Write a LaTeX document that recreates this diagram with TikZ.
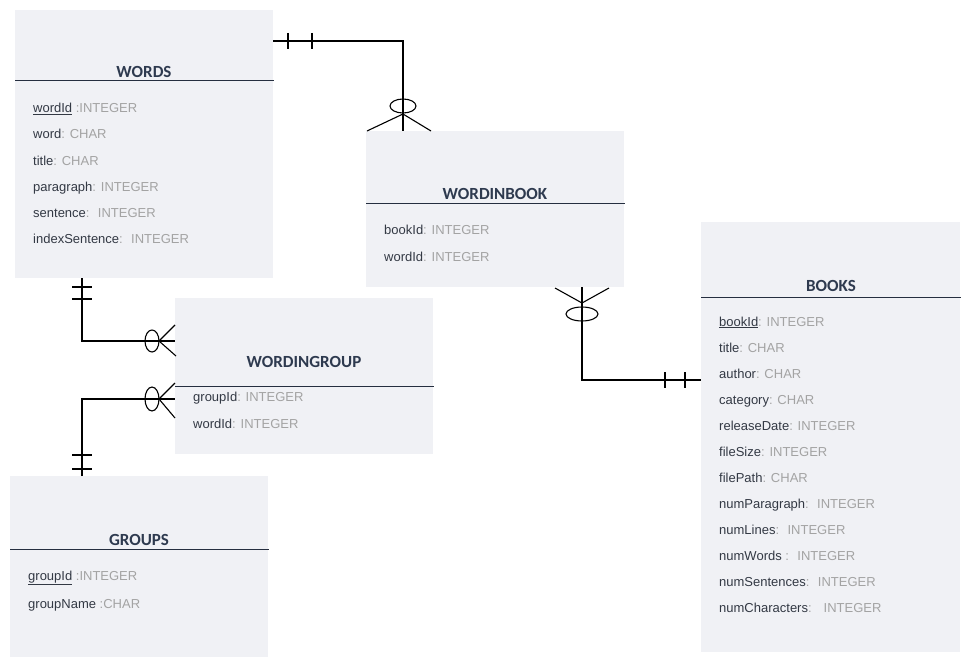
\documentclass[tikz,border=0pt]{standalone}
\usepackage{fontspec}
\setmainfont{Liberation Sans}
\newfontfamily\titlefont{Carlito}
\begin{document}
\begin{tikzpicture}[x=1pt,y=-1pt,
  tbl/.style={fill=boxfill,draw=none},
  ttl/.style={font=\titlefont\bfseries\fontsize{17}{19}\selectfont,text=titlecol,anchor=base},
  att/.style={font=\fontsize{13}{15}\selectfont,anchor=base west,inner sep=0pt,text=namecol},
  hd/.style={draw=titlecol!80!black,line width=0.8pt},
  rel/.style={line width=1.5pt,black},
  sym/.style={line width=1.1pt,black}]
\definecolor{boxfill}{HTML}{F0F1F5}
\definecolor{titlecol}{HTML}{2E3A4F}
\definecolor{namecol}{HTML}{333944}
\definecolor{typecol}{HTML}{A3A3A3}
\newcommand{\ty}[1]{\textcolor{typecol}{#1}}
\useasboundingbox (0,0) rectangle (972,658);
% boxes
\fill[tbl] (15,10) rectangle (273,278);
\fill[tbl] (366,131) rectangle (624,287);
\fill[tbl] (175,298) rectangle (433,454);
\fill[tbl] (10,476) rectangle (268,657);
\fill[tbl] (701,222) rectangle (960,652);
\node (words) at (15,10) {};
\node (wib) at (366,131) {};
\node (wig) at (175,298) {};
\node (groups) at (10,476) {};
\node (books) at (701,222) {};
% headers
\draw[hd] (15,80) -- (274,80);
\draw[hd] (366,203) -- (625,203);
\draw[hd] (175,386) -- (434,386);
\draw[hd] (10,549) -- (269,549);
\draw[hd] (701,297) -- (961,297);
\node[ttl] (t1) at (144,78) {WORDS};
\node[ttl] (t2) at (495,200) {WORDINBOOK};
\node[ttl] (t3) at (304,367) {WORDINGROUP};
\node[ttl] (t4) at (139,545) {GROUPS};
\node[ttl] (t5) at (831,291) {BOOKS};
% WORDS
\node[att] (a1) at (33,113) {\underline{wordId}~\ty{:INTEGER}};
\node[att] (a2) at (33,139) {word\ty{: CHAR}};
\node[att] (a3) at (33,165) {title\ty{: CHAR}};
\node[att] (a4) at (33,191) {paragraph\ty{: INTEGER}};
\node[att] (a5) at (33,217) {sentence\ty{:~ INTEGER}};
\node[att] (a6) at (33,243) {indexSentence\ty{:~ INTEGER}};
% WORDINBOOK
\node[att] (b1) at (384,234) {bookId\ty{: INTEGER}};
\node[att] (b2) at (384,261) {wordId\ty{: INTEGER}};
% WORDINGROUP
\node[att] (c1) at (193,401) {groupId\ty{: INTEGER}};
\node[att] (c2) at (193,428) {wordId\ty{: INTEGER}};
% GROUPS
\node[att] (d1) at (28,580) {\underline{groupId}~\ty{:INTEGER}};
\node[att] (d2) at (28,608) {groupName~\ty{:CHAR}};
% BOOKS
\node[att] (e1) at (719,326) {\underline{bookId}\ty{: INTEGER}};
\node[att] (e2) at (719,352) {title\ty{: CHAR}};
\node[att] (e3) at (719,378) {author\ty{: CHAR}};
\node[att] (e4) at (719,404) {category\ty{: CHAR}};
\node[att] (e5) at (719,430) {releaseDate\ty{: INTEGER}};
\node[att] (e6) at (719,456) {fileSize\ty{: INTEGER}};
\node[att] (e7) at (719,482) {filePath\ty{: CHAR}};
\node[att] (e8) at (719,508) {numParagraph\ty{:~ INTEGER}};
\node[att] (e9) at (719,534) {numLines\ty{:~ INTEGER}};
\node[att] (e10) at (719,560) {numWords~\ty{:~ INTEGER}};
\node[att] (e11) at (719,586) {numSentences\ty{:~ INTEGER}};
\node[att] (e12) at (719,612) {numCharacters\ty{:~~ INTEGER}};
% connector WORDS - WORDINBOOK
\coordinate (p1) at (273,41); \coordinate (p2) at (403,131);
\draw[rel] (p1) -- (403,41) -- (p2);
\draw[sym] (288,33) -- (288,49) (312,33) -- (312,49);
\draw[sym] (403,106) ellipse (13 and 7);
\draw[sym] (367,131) -- (403,114) -- (431,131);
% WORDINBOOK - BOOKS
\coordinate (q1) at (582,287); \coordinate (q2) at (701,380);
\draw[rel] (q1) -- (582,380) -- (q2);
\draw[sym] (555,288) -- (582,303) -- (609,288);
\draw[sym] (582,314) ellipse (16 and 7);
\draw[sym] (665,372) -- (665,388) (685,372) -- (685,388);
% WORDS - WORDINGROUP
\coordinate (r1) at (82,278); \coordinate (r2) at (175,341);
\draw[rel] (r1) -- (82,341) -- (r2);
\draw[sym] (72,287) -- (92,287) (72,299) -- (92,299);
\draw[sym] (152,341) ellipse (7 and 11);
\draw[sym] (175,325) -- (159,341) -- (176,356);
% GROUPS - WORDINGROUP
\coordinate (s1) at (82,476); \coordinate (s2) at (175,399);
\draw[rel] (s1) -- (82,399) -- (s2);
\draw[sym] (72,455) -- (92,455) (72,469) -- (92,469);
\draw[sym] (152,399) ellipse (7 and 12);
\draw[sym] (175,383) -- (159,399) -- (175,418);
\end{tikzpicture}
\end{document}
